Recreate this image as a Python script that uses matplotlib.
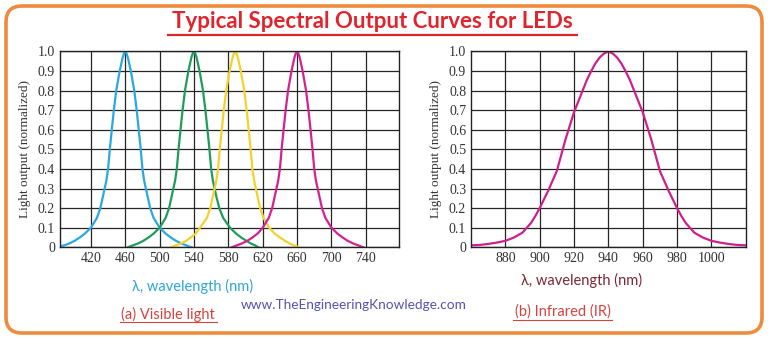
import matplotlib
matplotlib.use("Agg")
import matplotlib.pyplot as plt
from matplotlib.patches import FancyBboxPatch

# visible LEDs: wavelength (nm) and normalized light output
blue_nm = [384, 389, 395, 401, 407, 413, 420, 427, 431, 433.5, 436, 438, 440, 442, 444.3, 446.7, 449.5, 451.5, 453.5, 455, 457, 458.5, 460,
           461.5, 463, 465, 466.5, 468.5, 470.5, 473.3, 475.7, 478, 480, 482, 484, 486.5, 489, 493, 500, 507, 513, 519, 525, 531, 537]
blue_out = [0.005, 0.01, 0.02, 0.033, 0.05, 0.07, 0.1, 0.15, 0.2, 0.25, 0.3, 0.34, 0.4, 0.5, 0.6, 0.7, 0.8, 0.85, 0.9, 0.93, 0.97, 0.99, 1.0,
            0.99, 0.97, 0.93, 0.9, 0.85, 0.8, 0.7, 0.6, 0.5, 0.4, 0.34, 0.3, 0.25, 0.2, 0.15, 0.1, 0.07, 0.05, 0.033, 0.02, 0.01, 0.0]

green_nm = [463, 469, 475, 481, 487, 493, 500, 507, 511, 513.5, 516, 518, 520, 522, 524.3, 526.7, 529.5, 531.5, 533.5, 535, 537, 538.5, 540,
            541.5, 543, 545, 546.5, 548.5, 550.5, 553.3, 555.7, 558, 560, 562, 564, 566.5, 569.5, 574, 582, 589, 595, 601, 606, 611, 615]
green_out = [0.0, 0.01, 0.02, 0.033, 0.05, 0.07, 0.1, 0.15, 0.2, 0.25, 0.3, 0.34, 0.4, 0.5, 0.6, 0.7, 0.8, 0.85, 0.9, 0.93, 0.97, 0.99, 1.0,
             0.99, 0.97, 0.93, 0.9, 0.85, 0.8, 0.7, 0.6, 0.5, 0.4, 0.34, 0.3, 0.25, 0.2, 0.15, 0.1, 0.07, 0.05, 0.033, 0.02, 0.01, 0.0]

yellow_nm = [513, 519, 525, 531, 536, 542, 547, 555, 559, 561.5, 564, 566, 568, 570, 572.3, 574.7, 577.5, 579.5, 581.5, 583, 585, 586.5, 588,
             589.5, 591, 593, 594.5, 596.5, 598.5, 601.3, 603.7, 606, 608, 610, 612, 614.5, 617, 621, 627.5, 634, 640, 646, 651, 656, 662]
yellow_out = [0.0, 0.01, 0.02, 0.033, 0.05, 0.07, 0.1, 0.15, 0.2, 0.25, 0.3, 0.34, 0.4, 0.5, 0.6, 0.7, 0.8, 0.85, 0.9, 0.93, 0.97, 0.99, 1.0,
              0.99, 0.97, 0.93, 0.9, 0.85, 0.8, 0.7, 0.6, 0.5, 0.4, 0.34, 0.3, 0.25, 0.2, 0.15, 0.1, 0.07, 0.05, 0.033, 0.02, 0.01, 0.0]

red_nm = [584, 590, 596, 602, 608, 614, 620, 627, 631, 633.5, 636, 638, 640, 642, 644.3, 646.7, 649.5, 651.5, 653.5, 655, 657, 658.5, 660,
          661.5, 663, 665, 666.5, 668.5, 670.5, 673.3, 675.7, 678, 680, 682, 684, 686.5, 689, 693, 700, 707, 713, 719, 725, 731, 737]
red_out = [0.0, 0.01, 0.02, 0.033, 0.05, 0.07, 0.1, 0.15, 0.2, 0.25, 0.3, 0.34, 0.4, 0.5, 0.6, 0.7, 0.8, 0.85, 0.9, 0.93, 0.97, 0.99, 1.0,
           0.99, 0.97, 0.93, 0.9, 0.85, 0.8, 0.7, 0.6, 0.5, 0.4, 0.34, 0.3, 0.25, 0.2, 0.15, 0.1, 0.07, 0.05, 0.033, 0.02, 0.01, 0.0]

# infrared LED
ir_nm = [860, 865, 870, 875, 880, 885, 890, 892.5, 895, 897.5, 900, 902.5, 905, 907.5, 910, 912.5, 915, 917.5, 920,
         922.5, 925, 927.5, 930, 932.5, 935, 937.5, 940, 942.5, 945, 947.5, 950, 952.5, 955, 957.5, 960,
         962.5, 965, 967.5, 970, 972.5, 975, 977.5, 980, 982.5, 985, 987.5, 990, 995, 1000, 1005, 1010, 1015, 1020]
ir_out = [0.01, 0.012, 0.017, 0.024, 0.033, 0.05, 0.075, 0.1, 0.125, 0.16, 0.2, 0.245, 0.29, 0.34, 0.39, 0.47, 0.55, 0.62, 0.69,
          0.745, 0.8, 0.855, 0.9, 0.94, 0.97, 0.99, 1.0, 0.99, 0.97, 0.94, 0.9, 0.855, 0.8, 0.745, 0.69,
          0.62, 0.55, 0.47, 0.39, 0.34, 0.29, 0.245, 0.2, 0.16, 0.125, 0.1, 0.075, 0.05, 0.033, 0.024, 0.017, 0.012, 0.01]

vis_ticks = [420, 460, 500, 540, 580, 620, 660, 700, 740]
ir_ticks = [880, 900, 920, 940, 960, 980, 1000]
y_ticks = [0, 0.1, 0.2, 0.3, 0.4, 0.5, 0.6, 0.7, 0.8, 0.9, 1.0]
y_labels = ["0", "0.1", "0.2", "0.3", "0.4", "0.5", "0.6", "0.7", "0.8", "0.9", "1.0"]

sans = ["Lato", "DejaVu Sans"]
serif = "Liberation Serif"

fig = plt.figure(figsize=(7.68, 3.41), dpi=100)

# background layer in pixel coordinates for the frame and the captions
bg = fig.add_axes([0, 0, 1, 1])
bg.set_xlim(0, 768)
bg.set_ylim(341, 0)
bg.axis("off")
bg.add_patch(FancyBboxPatch((6, 6), 756, 327, boxstyle="round,pad=0,rounding_size=16",
                            fill=False, ec="#EE8B3D", lw=2.6))

bg.text(372, 22, "Typical Spectral Output Curves for LEDs", ha="center", va="center",
        fontsize=16, fontweight="bold", color="#E0242C", family=sans)
bg.plot([168, 577], [35, 35], color="#E0242C", lw=1.6)

bg.text(193, 286, "λ, wavelength (nm)", ha="center", va="center", fontsize=10.5, color="#2EA6DA", family=sans)
bg.text(582, 280, "λ, wavelength (nm)", ha="center", va="center", fontsize=10.5, color="#7A2838", family=sans)
bg.text(354, 305, "www.TheEngineeringKnowledge.com", ha="center", va="center", fontsize=9.8, color="#5552AE", family=sans)
bg.text(168, 314, "(a) Visible light", ha="center", va="center", fontsize=10.5, color="#D6433F", family=sans)
bg.plot([120, 217], [322, 322], color="#D6433F", lw=0.8)
bg.text(563, 312, "(b) Infrared (IR)", ha="center", va="center", fontsize=10.5, color="#D6433F", family=sans)
bg.plot([513, 612], [320, 320], color="#D6433F", lw=0.8)


def style_axes(ax, xlim, xticks):
    ax.set_xlim(*xlim)
    ax.set_ylim(0, 1.0)
    ax.set_xticks(xticks)
    ax.set_yticks(y_ticks)
    ax.set_yticklabels(y_labels)
    ax.grid(True, color="#262626", lw=0.9)
    ax.set_axisbelow(True)
    ax.tick_params(length=0, pad=3.5, labelsize=10, labelcolor="#333333")
    for lab in ax.get_xticklabels() + ax.get_yticklabels():
        lab.set_family(serif)
    for sp in ax.spines.values():
        sp.set_color("#222222")
        sp.set_linewidth(1.0)
    ax.set_ylabel("Light output (normalized)", family=serif, fontsize=9.5, color="#333333", labelpad=5)


ax1 = fig.add_axes([0.0781, 0.2748, 0.4418, 0.5742])
style_axes(ax1, (384, 779), vis_ticks)
ax1.plot(blue_nm, blue_out, color="#2AA9DF", lw=1.6)
ax1.plot(green_nm, green_out, color="#1E9C5C", lw=1.6)
ax1.plot(yellow_nm, yellow_out, color="#F4D22C", lw=1.6)
ax1.plot(red_nm, red_out, color="#D42190", lw=1.6)

ax2 = fig.add_axes([0.6133, 0.2748, 0.3577, 0.5742])
style_axes(ax2, (860, 1020), ir_ticks)
ax2.plot(ir_nm, ir_out, color="#CF1F8C", lw=1.6)

fig.savefig("out.png", dpi=100)
